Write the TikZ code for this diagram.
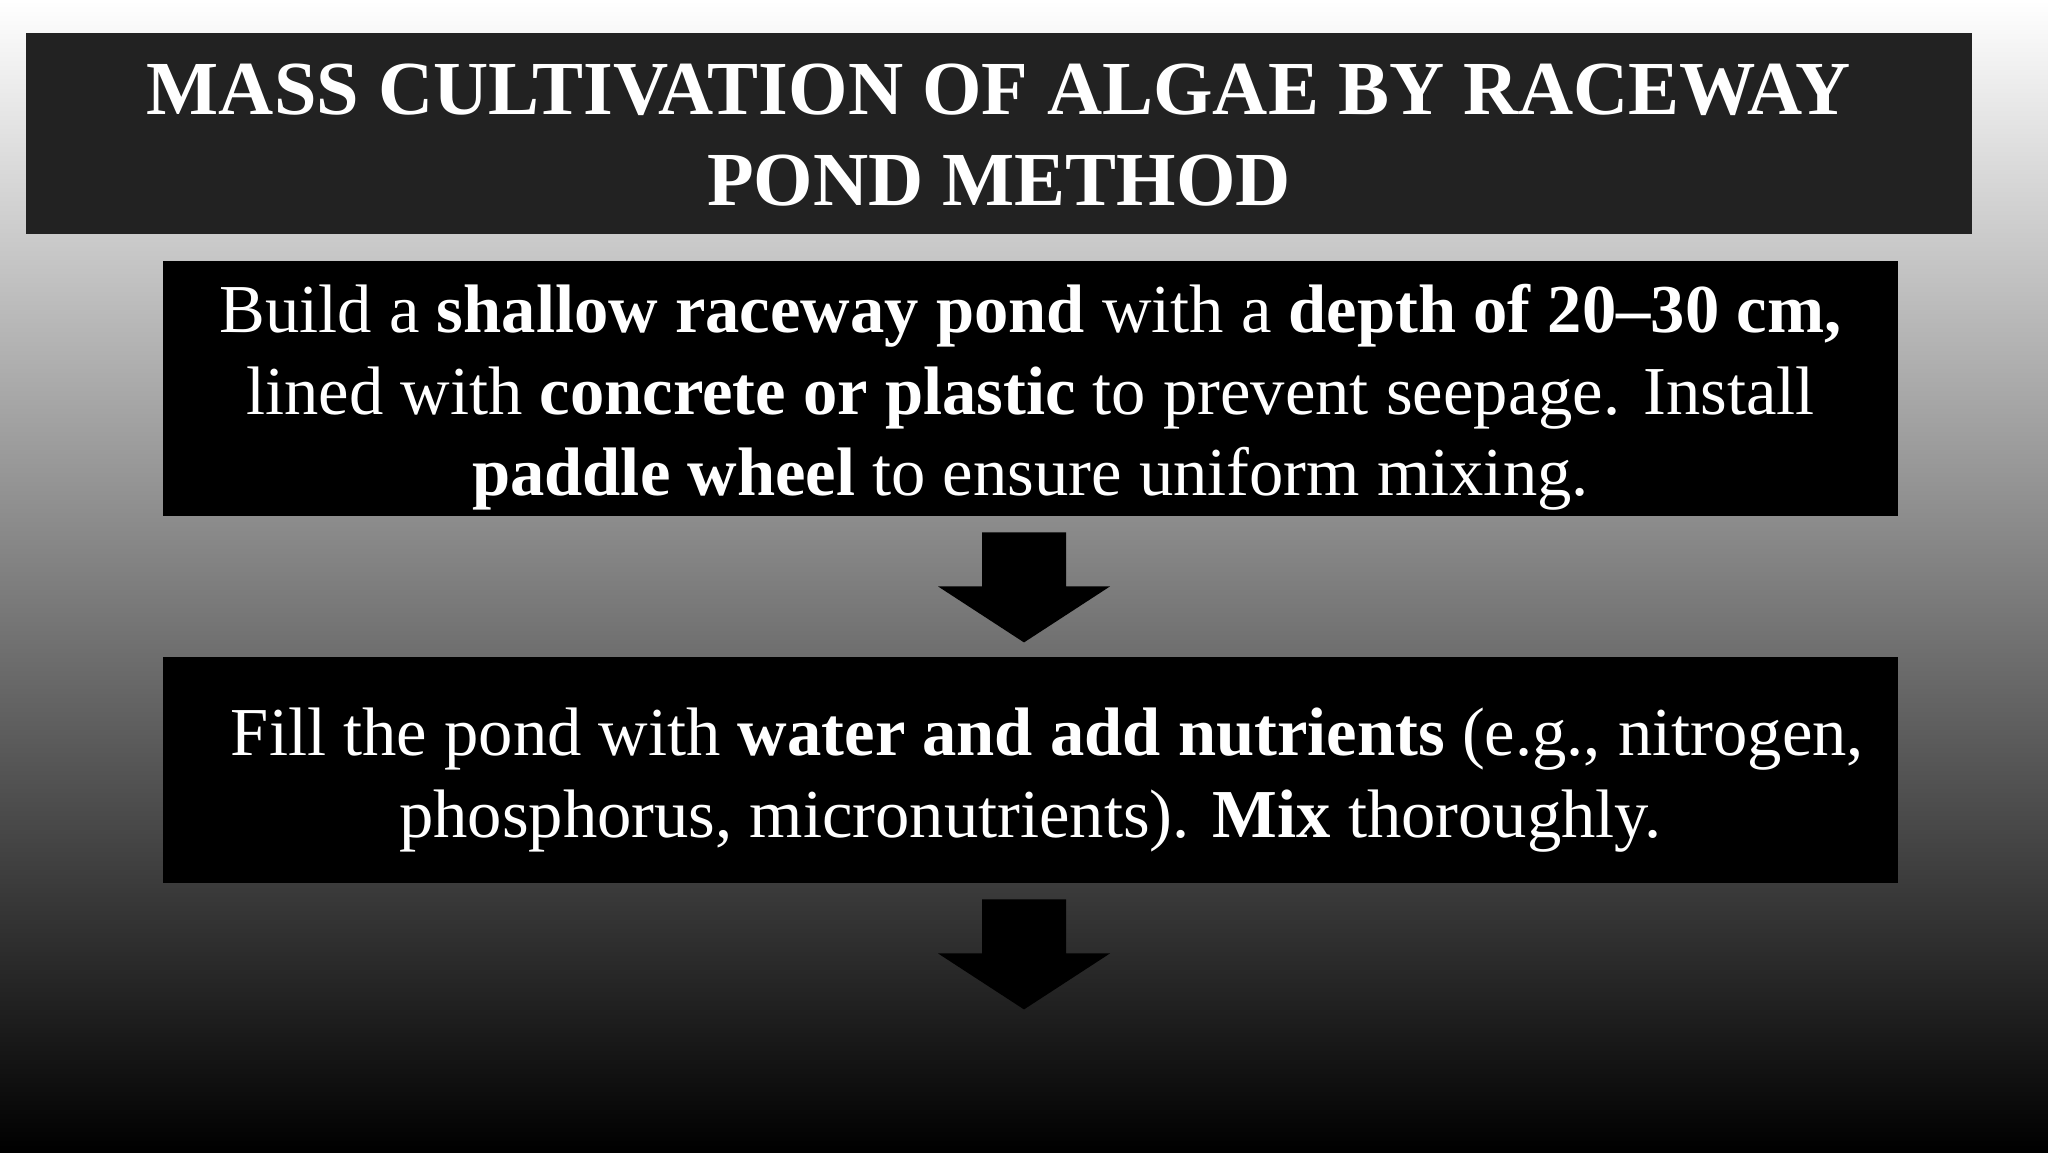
\documentclass[tikz,border=0pt]{standalone}
\usepackage{fontspec}
\setmainfont{Liberation Serif}
\usepackage{xcolor}
\definecolor{titlegray}{HTML}{222222}

\newcommand{\topgap}[1]{\rule{0pt}{#1}}

\tikzset{
  titlebox/.style={fill=titlegray, text=white, minimum width=973pt, minimum height=100.5pt, inner sep=0pt, align=center, font=\fontsize{38.2}{45.5}\selectfont\bfseries},
  stepbox/.style={fill=black, text=white, minimum width=867.5pt, inner sep=0pt, align=center, font=\fontsize{34.3}{40.75}\selectfont},
  blockarrow/.style={fill=black},
}

\begin{document}
\begin{tikzpicture}[x=0.5pt,y=0.5pt,yscale=-1,xscale=1]
    \useasboundingbox (0,0) rectangle (2048,1152);

    %Shape: Background
    \shade [top color=white, bottom color=black] (0,0) rectangle (2048,1152);

    % Title Node
    \node [titlebox] (title) at (999,133.5) {\topgap{26.5pt}MASS CULTIVATION OF ALGAE BY RACEWAY\\POND METHOD};

    % Text Node
    \node [stepbox, minimum height=127.5pt] (build) at (1030.5,388.5) {\topgap{33pt}Build a \textbf{shallow raceway pond} with a \textbf{depth of 20--30 cm,}\\lined with \textbf{concrete or plastic} to prevent seepage. Install\\\textbf{paddle wheel} to ensure uniform mixing.};
    % Text Node
    \node [stepbox, minimum height=113pt] (fill) at (1030.5,770) {\topgap{34pt}\hspace*{17pt}Fill the pond with \textbf{water and add nutrients} (e.g., nitrogen,\\phosphorus, micronutrients). \textbf{Mix} thoroughly.};

    %Shape: Down Arrows
    \foreach \b in {build,fill}
      \fill [blockarrow] (\b.south) ++(-48.5,16) -- ++(84,0) -- ++(0,54) -- ++(44,0) -- ++(-86,56) -- ++(-86,-56) -- ++(44,0) -- cycle;

\end{tikzpicture}
\end{document}
